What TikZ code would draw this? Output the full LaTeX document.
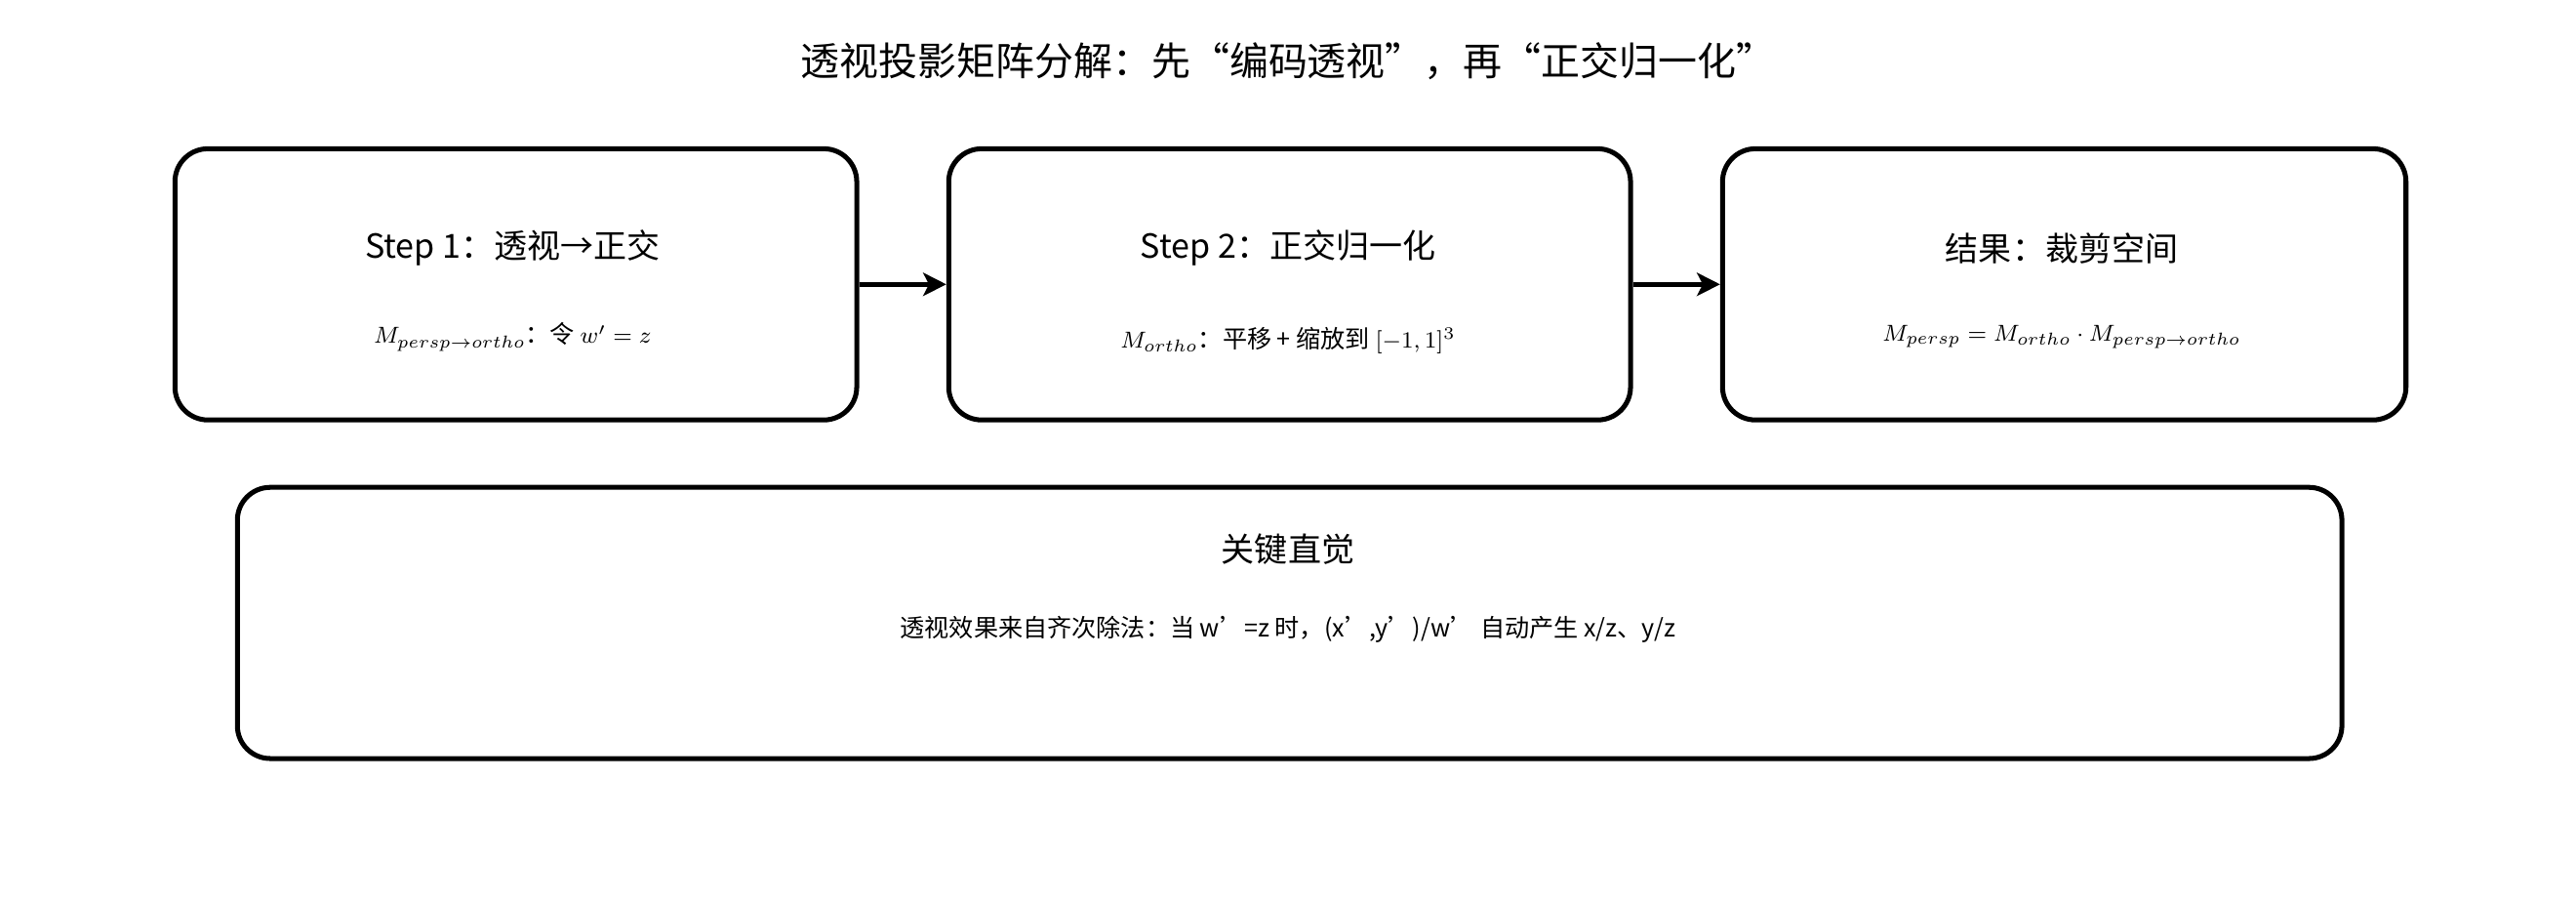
\documentclass[tikz,border=0pt]{standalone}
\usepackage{fontspec}
\setmainfont{Noto Sans CJK SC}
\usetikzlibrary{arrows.meta}
\tikzset{box/.style={draw,line width=1.7pt,rounded corners=0.4cm,anchor=north west},
 ttl/.style={font=\fontsize{11.5}{13}\selectfont},
 sub/.style={font=\fontsize{8.5}{10}\selectfont},
 arr/.style={line width=1.7pt,-{Stealth[length=8pt,width=8pt,inset=2pt]}}}
\begin{document}
\begin{tikzpicture}[x=0.02cm,y=-0.02cm]
\useasboundingbox (0,0) rectangle (1568,549);
\node[font=\fontsize{13.5}{15}\selectfont] (title) at (784,37) {透视投影矩阵分解：先“编码透视”，再“正交归一化”};
\node[box,minimum width=415*0.02cm,minimum height=165*0.02cm] (b1) at (105,89) {};
\node[box,minimum width=415*0.02cm,minimum height=165*0.02cm] (b2) at (576,89) {};
\node[box,minimum width=416*0.02cm,minimum height=165*0.02cm] (b3) at (1047,89) {};
\node[box,minimum width=1281*0.02cm,minimum height=165*0.02cm] (b4) at (143,295) {};
\node[ttl] (t1) at (312,151) {Step 1：透视→正交};
\node[sub] (s1) at (312,205) {$M_{persp\to ortho}$：令 $w'=z$};
\node[ttl] (t2) at (784,151) {Step 2：正交归一化};
\node[sub] (s2) at (784,207) {$M_{ortho}$：平移 + 缩放到 $[-1,1]^3$};
\node[ttl] (t3) at (1255,151) {结果：裁剪空间};
\node[sub] (s3) at (1255,205) {$M_{persp}=M_{ortho}\cdot M_{persp\to ortho}$};
\node[ttl] (t4) at (784,334) {关键直觉};
\node[sub] (s4) at (784,383) {透视效果来自齐次除法：当 w'=z 时，(x',y')/w' 自动产生 x/z、y/z};
\draw[arr] (b1.east) -- (b2.west);
\draw[arr] (b2.east) -- (b3.west);
\end{tikzpicture}
\end{document}
